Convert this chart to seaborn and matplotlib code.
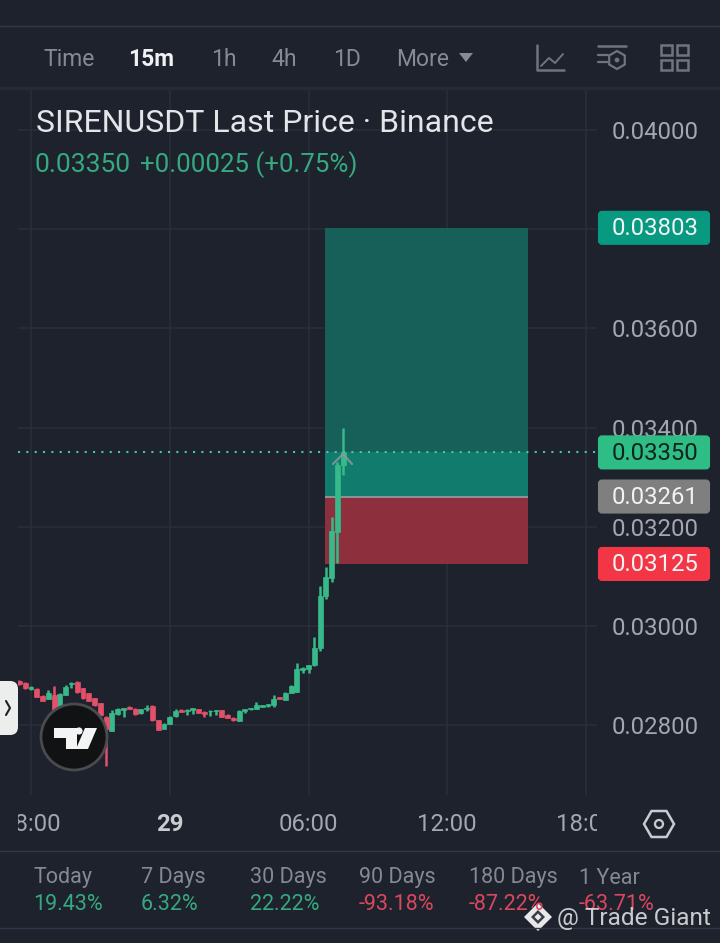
import numpy as np
import matplotlib
matplotlib.use("Agg")
import matplotlib.pyplot as plt
from matplotlib.patches import FancyBboxPatch, Circle, Polygon, RegularPolygon, Rectangle
from matplotlib.transforms import Bbox
import seaborn as sns

# --- Data (prices in 0.00001 USDT, one candle = 15 min, 0 = 18:00) ---
candle_idx = list(range(-2, 55))
opens = [2888, 2884, 2873, 2873, 2859, 2853, 2861, 2837, 2861, 2883, 2886, 2874, 2864, 2854, 2844,
         2817, 2789, 2822, 2830, 2836, 2833, 2824, 2832, 2838, 2810, 2793, 2803, 2818, 2831, 2829,
         2830, 2832, 2827, 2828, 2828, 2830, 2821, 2815, 2809, 2828, 2832, 2833, 2837, 2838, 2840,
         2856, 2851, 2865, 2867, 2911, 2914, 2921, 2956, 3061, 3097, 3190, 3325]
highs = [2891, 2886, 2879, 2875, 2860, 2871, 2879, 2864, 2881, 2887, 2888, 2875, 2865, 2855, 2845,
         2818, 2830, 2835, 2835, 2838, 2834, 2833, 2840, 2840, 2811, 2804, 2818, 2832, 2833, 2832,
         2835, 2833, 2828, 2830, 2831, 2831, 2822, 2816, 2830, 2833, 2835, 2846, 2841, 2843, 2861,
         2857, 2867, 2880, 2925, 2917, 2922, 2978, 3081, 3119, 3220, 3331, 3400]
lows = [2881, 2872, 2871, 2856, 2848, 2852, 2827, 2836, 2860, 2874, 2865, 2853, 2848, 2839, 2819,
        2717, 2788, 2821, 2817, 2832, 2821, 2823, 2829, 2809, 2790, 2792, 2802, 2817, 2826, 2820,
        2822, 2824, 2817, 2818, 2820, 2816, 2814, 2809, 2808, 2825, 2831, 2832, 2836, 2837, 2837,
        2852, 2850, 2864, 2866, 2905, 2906, 2920, 2949, 3055, 3089, 3127, 3305]
closes = [2882, 2875, 2877, 2857, 2849, 2864, 2830, 2863, 2877, 2884, 2866, 2854, 2849, 2840, 2820,
          2793, 2824, 2832, 2834, 2833, 2822, 2832, 2834, 2810, 2791, 2803, 2817, 2828, 2827, 2831,
          2834, 2825, 2822, 2829, 2830, 2817, 2815, 2811, 2829, 2832, 2834, 2840, 2840, 2842, 2852,
          2853, 2865, 2879, 2914, 2916, 2921, 2956, 3061, 3099, 3192, 3325, 3350]

price_ticks = [2800, 3000, 3200, 3400, 3600, 3800, 4000]
time_ticks = [0, 24, 48, 72, 96]
time_labels = ["18:00", "29", "06:00", "12:00", "18:00"]

entry_price = 3261
target_price = 3803
stop_price = 3125
last_price = 3350
position_start = 50.9
position_end = 86

periods = ["Today", "7 Days", "30 Days", "90 Days", "180 Days", "1 Year"]
period_changes = ["19.43%", "6.32%", "22.22%", "-93.18%", "-87.22%", "-63.71%"]
period_x = [33, 141, 250, 359, 469, 579]

toolbar_items = ["Time", "15m", "1h", "4h", "1D", "More"]
toolbar_x = [43, 128, 211, 271, 333, 396]

BG = "#1e222d"
GRID = "#2a2e39"
UP = "#38b98a"
DOWN = "#e2506a"
TEXT = "#a4a7af"
TEXT_GREEN = "#35a97f"
TEXT_RED = "#d9485f"
W, H = 720, 943

sns.set_theme(style="darkgrid", rc={
    "figure.facecolor": BG, "axes.facecolor": BG, "grid.color": GRID, "grid.linewidth": 1.2,
})
plt.rcParams["font.family"] = ["Roboto", "DejaVu Sans"]

fig = plt.figure(figsize=(W / 100, H / 100), dpi=100)

# main chart, placed so candles keep the 5.78 px spacing
left, right, top, bottom = 18, 597, 90, 795
ax = fig.add_axes([left / W, 1 - bottom / H, (right - left) / W, (bottom - top) / H])

idx = np.array(candle_idx)
o, h, l, c = map(np.array, (opens, highs, lows, closes))
is_up = c >= o

# position tool
x0 = (position_start + 2.25) / 100.15
x1 = (position_end + 2.25) / 100.15
ax.axhspan(last_price, target_price, x0, x1, color="#175f59", lw=0, zorder=1.1)
ax.axhspan(entry_price, last_price, x0, x1, color="#117c6d", lw=0, zorder=1.1)
ax.axhspan(stop_price, entry_price, x0, x1, color="#8e2f3d", lw=0, zorder=1.1)
ax.hlines(entry_price, position_start, position_end, color="#9a9ca3", lw=1.2, zorder=1.2)

# candles
ax.vlines(idx[is_up], l[is_up], h[is_up], color=UP, lw=1.8, zorder=2)
ax.vlines(idx[~is_up], l[~is_up], h[~is_up], color=DOWN, lw=1.8, zorder=2)
sns.barplot(x=idx[is_up], y=(c - o)[is_up], bottom=o[is_up], native_scale=True, width=0.85,
            color=UP, saturation=1, errorbar=None, ax=ax, zorder=2, edgecolor=UP, linewidth=0.5)
sns.barplot(x=idx[~is_up], y=(o - c)[~is_up], bottom=c[~is_up], native_scale=True, width=0.85,
            color=DOWN, saturation=1, errorbar=None, ax=ax, zorder=2, edgecolor=DOWN, linewidth=0.5)

# last price line
sns.lineplot(x=[-2.25, 97.9], y=[last_price, last_price], color="#45c9a0", lw=1.5,
             linestyle=(0, (1, 3)), ax=ax, zorder=2.5)

ax.set_xlim(-2.25, 97.9)
ax.set_ylim(2659, 4081)
ax.set_xlabel("")
ax.set_ylabel("")
ax.set_axisbelow(True)
for side in ax.spines.values():
    side.set_visible(False)

ax.yaxis.tick_right()
ax.set_yticks(price_ticks, [f"{p / 1e5:.5f}" for p in price_ticks])
ax.tick_params(axis="y", length=0, pad=10.8, labelsize=17.2, labelcolor=TEXT)
ax.set_xticks(time_ticks, time_labels)
ax.tick_params(axis="x", length=0, pad=13, labelsize=17.2, labelcolor=TEXT)
clip = Bbox([[17.5, 0], [right, H]])
for lab in ax.get_xticklabels():
    lab.set_clip_box(clip)
    lab.set_clip_on(True)
    if lab.get_text() == "29":
        lab.set_fontweight("bold")
        lab.set_color("#c9cbd1")


def price_y(price):
    return H - ax.transData.transform((0, price))[1]


# overlay in reference pixels for the app chrome
ov = fig.add_axes([0, 0, 1, 1], facecolor="none", zorder=5)
ov.set_xlim(0, W)
ov.set_ylim(H, 0)
ov.axis("off")

ov.plot([0, W], [26, 26], color="#333744", lw=1)
ov.plot([0, W], [88, 88], color="#262a35", lw=2.5)
ov.plot([0, W], [851, 851], color="#333744", lw=1)
ov.plot([0, W], [928, 928], color="#333744", lw=1)

# toolbar
for name, x in zip(toolbar_items, toolbar_x):
    active = name == "15m"
    ov.text(x, 59, name, color="#f0f1f3" if active else "#868a94", fontsize=16.5,
            fontweight="bold" if active else "normal", va="center", ha="left")
ov.add_patch(Polygon([[459, 53], [473, 53], [466, 62]], color="#868a94", lw=0))
ov.plot([537, 537, 564], [45, 70, 70], color="#70747f", lw=1.8)
ov.plot([541, 549, 555, 563], [66, 58, 63, 54], color="#70747f", lw=1.4)
ov.plot([598, 626], [46, 46], color="#70747f", lw=1.8)
ov.plot([598, 608], [55, 55], color="#70747f", lw=1.6)
ov.plot([598, 608], [62, 62], color="#70747f", lw=1.6)
ov.add_patch(RegularPolygon((617, 60), 6, radius=9, fill=False, ec="#70747f", lw=1.6))
ov.add_patch(Circle((617, 60), 2.4, color="#70747f", lw=0))
for bx in (661, 677):
    for by in (45, 60):
        ov.add_patch(Rectangle((bx, by), 11, 10, fill=False, ec="#70747f", lw=1.8))

# legend text
ov.text(36, 124, "SIRENUSDT Last Price · Binance", color="#e4e5e9", fontsize=23, va="center")
ov.text(34, 165, "0.03350", color=TEXT_GREEN, fontsize=19, va="center")
ov.text(140, 165, "+0.00025 (+0.75%)", color=TEXT_GREEN, fontsize=18.6, va="center")

# price tags
tags = [(target_price, "#089981", "#f2f3f5"), (last_price, "#2ebd85", "#10241e"),
        (entry_price, "#7f7f7f", "#f2f3f5"), (stop_price, "#f23645", "#f2f3f5")]
for price, color, txt in tags:
    y = price_y(price)
    ov.add_patch(FancyBboxPatch((599, y - 16), 110, 32, boxstyle="round,pad=0,rounding_size=3",
                                fc=color, ec=color, lw=1.5))
    ov.text(655, y + 1, f"{price / 1e5:.5f}", color=txt, fontsize=17.2, ha="center", va="center")

# entry arrow on the last candle
ov.plot([333, 343, 352], [464, 454, 464], color="#8f9a98", lw=1.6, alpha=0.8)

# left tab and logo
ov.add_patch(FancyBboxPatch((-8, 681), 26, 54, boxstyle="round,pad=0,rounding_size=8",
                            fc="#eceded", ec="none"))
ov.plot([6, 10, 6], [701, 708, 715], color="#222", lw=1.5)
ov.add_patch(Circle((74, 737), 33, fc="#111214", ec="#4a4b4f", lw=2))
ov.add_patch(Polygon([[54, 728], [77, 728], [77, 749], [66, 749], [66, 738], [54, 738]], color="#f4f4f4", lw=0))
ov.add_patch(Circle((79, 731), 3.6, color="#f4f4f4", lw=0))
ov.add_patch(Polygon([[85, 728], [97, 728], [88, 749], [76, 749]], color="#f4f4f4", lw=0))

# settings hexagon
ov.add_patch(RegularPolygon((659, 824), 6, radius=15, orientation=np.pi / 6, fill=False, ec="#c9cbd1", lw=1.8))
ov.add_patch(Circle((659, 824), 4, fill=False, ec="#c9cbd1", lw=1.6))

# period table
for name, value, x in zip(periods, period_changes, period_x):
    ov.text(x, 878, name, color="#858994", fontsize=15.5, va="center")
    ov.text(x, 905, value, color=TEXT_RED if value.startswith("-") else TEXT_GREEN,
            fontsize=15.5, va="center")

# watermark
ov.text(557, 918, "@ Trade Giant", color="#dcdde0", fontsize=17.6, va="center", alpha=0.9)
ov.add_patch(RegularPolygon((538, 917), 4, radius=14, color="#e8e8ea", lw=0))
ov.add_patch(RegularPolygon((538, 917), 4, radius=7, color="#3a3d46", lw=0))
ov.add_patch(RegularPolygon((538, 917), 4, radius=3.5, color="#e8e8ea", lw=0))

fig.savefig("out.png", dpi=100, facecolor=BG)
